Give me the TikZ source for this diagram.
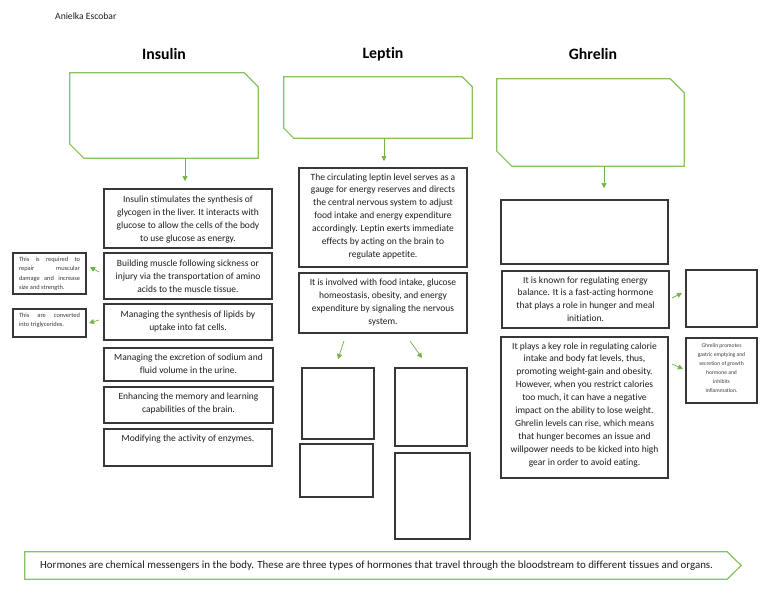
\documentclass[tikz,border=0pt]{standalone}
\usepackage{fontspec}
\setmainfont{Carlito}[Ligatures=NoCommon]
\usetikzlibrary{arrows.meta,fit,calc}
\definecolor{snipgreen}{RGB}{135,196,95}
\definecolor{arrgreen}{RGB}{112,180,70}
\definecolor{boxgray}{RGB}{55,55,55}
\definecolor{txtgray}{RGB}{30,30,30}
\definecolor{smallgray}{RGB}{60,60,60}
\tikzset{
  boxst/.style={draw=boxgray, line width=1.05pt, inner sep=0pt},
  snipst/.style={inner sep=0pt},
  snipline/.style={draw=snipgreen, line width=1.2pt, line join=miter},
  garrow/.style={draw=arrgreen, line width=0.7pt, -{Triangle[width=5pt,length=5pt]}},
  btxt/.style={font=\fontsize{9.5}{12.9}\selectfont, align=center, inner sep=0pt, text=txtgray, anchor=north},
  stxt/.style={font=\fontsize{6.4}{9.3}\selectfont, align=justify, text width=61pt, inner sep=0pt, text=smallgray, anchor=north},
  gtxt/.style={font=\fontsize{5.6}{9}\selectfont, align=center, inner sep=0pt, text=smallgray, anchor=north},
  title/.style={font=\fontsize{15.8}{18}\selectfont\bfseries, text=black, inner sep=0pt}
}
\begin{document}
\begin{tikzpicture}[x=1pt,y=-1pt]
\fill[white] (0,0) rectangle (768,594);
\useasboundingbox (0,0) rectangle (768,594);

% author and titles
\node[font=\fontsize{9.6}{11}\selectfont, anchor=west, inner sep=0pt, text=txtgray] (author) at (55,16) {Anielka Escobar};
\node[title] (tins) at (164,54) {Insulin};
\node[title] (tlep) at (383,54) {Leptin};
\node[title] (tghr) at (593,54) {Ghrelin};

% snip shapes
\node[snipst, fit={(70,73) (258,158)}] (insS) {};
\draw[snipline] ([xshift=-14pt]insS.north east) -- ([yshift=-14pt]insS.north east) -- (insS.south east) -- ([xshift=14pt]insS.south west) -- ([yshift=14pt]insS.south west) -- (insS.north west) -- cycle;
\node[snipst, fit={(284,77) (472,138)}] (lepS) {};
\draw[snipline] ([xshift=-10pt]lepS.north east) -- ([yshift=-10pt]lepS.north east) -- (lepS.south east) -- ([xshift=10pt]lepS.south west) -- ([yshift=10pt]lepS.south west) -- (lepS.north west) -- cycle;
\node[snipst, fit={(497,79) (684,166)}] (ghrS) {};
\draw[snipline] ([xshift=-14pt]ghrS.north east) -- ([yshift=-14pt]ghrS.north east) -- (ghrS.south east) -- ([xshift=15pt]ghrS.south west) -- ([yshift=15pt]ghrS.south west) -- (ghrS.north west) -- cycle;

% insulin boxes
\node[boxst, fit={(104,189) (272,248)}] (b1) {};
\node[boxst, fit={(104,253) (272,299)}] (b2) {};
\node[boxst, fit={(104,304) (272,340)}] (b3) {};
\node[boxst, fit={(104,348) (273,381)}] (b4) {};
\node[boxst, fit={(104,387) (273,423)}] (b5) {};
\node[boxst, fit={(104,429) (272,466)}] (b6) {};
\node[boxst, fit={(13,253) (86,294)}] (s1) {};
\node[boxst, fit={(13,309) (86,337)}] (s2) {};

\node[btxt] (b1t) at ([yshift=-7.2pt]b1.north) {Insulin stimulates the synthesis of\\glycogen in the liver. It interacts with\\glucose to allow the cells of the body\\to use glucose as energy.};
\node[btxt] (b2t) at ([yshift=-7.2pt]b2.north) {Building muscle following sickness or\\injury via the transportation of amino\\acids to the muscle tissue.};
\node[btxt] (b3t) at ([yshift=-7.2pt]b3.north) {Managing the synthesis of lipids by\\uptake into fat cells.};
\node[btxt] (b4t) at ([yshift=-6pt]b4.north) {Managing the excretion of sodium and\\fluid volume in the urine.};
\node[btxt] (b5t) at ([yshift=-6pt]b5.north) {Enhancing the memory and learning\\capabilities of the brain.};
\node[btxt] (b6t) at ([yshift=-6pt]b6.north) {Modifying the activity of enzymes.};
\node[stxt] (s1t) at ([yshift=-4.5pt]s1.north) {This is required to\linebreak repair muscular\linebreak damage and increase\linebreak size and strength.};
\node[stxt] (s2t) at ([yshift=-4.5pt]s2.north) {This are converted\linebreak into triglycerides.};

% leptin boxes
\node[boxst, fit={(299,168) (467,267)}] (l1) {};
\node[boxst, fit={(299,273) (467,333)}] (l2) {};
\node[boxst, fit={(302,368) (374,439)}] (l3) {};
\node[boxst, fit={(300,444) (373,497)}] (l4) {};
\node[boxst, fit={(395,368) (467,446)}] (l5) {};
\node[boxst, fit={(395,453) (470,539)}] (l6) {};
\node[btxt] (l1t) at ([yshift=-5.8pt]l1.north) {The circulating leptin level serves as a\\gauge for energy reserves and directs\\the central nervous system to adjust\\food intake and energy expenditure\\accordingly. Leptin exerts immediate\\effects by acting on the brain to\\regulate appetite.};
\node[btxt] (l2t) at ([yshift=-6.5pt]l2.north) {It is involved with food intake, glucose\\homeostasis, obesity, and energy\\expenditure by signaling the nervous\\system.};

% ghrelin boxes
\node[boxst, fit={(501,200) (668,264)}] (g1) {};
\node[boxst, fit={(502,271) (669,328)}] (g2) {};
\node[boxst, fit={(686,270) (757,327)}] (g3) {};
\node[boxst, fit={(501,337) (668,478)}] (g4) {};
\node[boxst, fit={(686,338) (757,403)}] (g5) {};
\node[btxt] (g2t) at ([yshift=-5.8pt]g2.north) {It is known for regulating energy\\balance. It is a fast-acting hormone\\that plays a role in hunger and meal\\initiation.};
\node[btxt] (g4t) at ([yshift=-5.8pt]g4.north) {It plays a key role in regulating calorie\\intake and body fat levels, thus,\\promoting weight-gain and obesity.\\However, when you restrict calories\\too much, it can have a negative\\impact on the ability to lose weight.\\Ghrelin levels can rise, which means\\that hunger becomes an issue and\\willpower needs to be kicked into high\\gear in order to avoid eating.};
\node[gtxt] (g5t) at ([yshift=-5.5pt]g5.north) {Ghrelin promotes\\gastric emptying and\\secretion of growth\\hormone and\\inhibits\\inflammation.};

% arrows
\coordinate (ai1) at (185,158); \coordinate (ai2) at (185,181);
\draw[garrow] (ai1) -- (ai2);
\coordinate (al1) at (384,138); \coordinate (al2) at (384,161);
\draw[garrow] (al1) -- (al2);
\coordinate (ag1) at (604,166); \coordinate (ag2) at (604,188);
\draw[garrow] (ag1) -- (ag2);
\coordinate (as1a) at (99,272); \coordinate (as1b) at (90,267);
\draw[garrow] (as1a) -- (as1b);
\coordinate (as2a) at (99,320); \coordinate (as2b) at (89,323);
\draw[garrow] (as2a) -- (as2b);
\coordinate (ala) at (344,341); \coordinate (alb) at (338,359);
\draw[garrow] (ala) -- (alb);
\coordinate (ara) at (410,341); \coordinate (arb) at (422,358);
\draw[garrow] (ara) -- (arb);
\coordinate (agr1a) at (672,298); \coordinate (agr1b) at (682,293);
\draw[garrow] (agr1a) -- (agr1b);
\coordinate (agr2a) at (672,364); \coordinate (agr2b) at (683,369);
\draw[garrow] (agr2a) -- (agr2b);

% banner
\node[snipst, fit={(25,552) (727,579)}] (ban) {};
\draw[snipline] (ban.north west) -- (ban.north east) -- ([xshift=14pt]ban.east) -- (ban.south east) -- (ban.south west) -- cycle;
\node[font=\fontsize{10.9}{12}\selectfont, anchor=west, inner sep=0pt, text=txtgray] (bant) at (40,566) {Hormones are chemical messengers in the body. These are three types of hormones that travel through the bloodstream to different tissues and organs.};
\end{tikzpicture}
\end{document}
